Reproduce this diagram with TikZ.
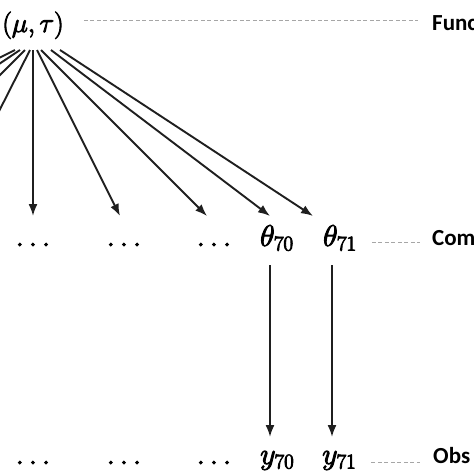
\RequirePackage{fix-cm}
\documentclass[tikz,border=0pt]{standalone}
\usepackage{fontspec}
\newfontfamily\labfont{Carlito}
\usetikzlibrary{arrows.meta}
\newcommand\heavytext[1]{\special{pdf:literal direct 2 Tr 0.9 w}#1\special{pdf:literal direct 0 Tr}}
\begin{document}
\begin{tikzpicture}[x=1pt,y=-1pt,
  conn/.style={line width=1.9pt, draw=black!88, -{Latex[length=12pt,width=9pt]}},
  plainconn/.style={line width=1.9pt, draw=black!88},
  guide/.style={draw=black!35, line width=0.7pt, dash pattern=on 4pt off 2.5pt},
  mnode/.style={inner sep=0pt, anchor=base west, font=\fontsize{30}{34}\selectfont},
  dnode/.style={inner sep=0pt, anchor=base, font=\fontsize{30}{34}\selectfont},
  lab/.style={inner sep=0pt, anchor=base west, font=\fontsize{23}{27}\selectfont\labfont\bfseries}]
\useasboundingbox (0,0) rectangle (474,474);
\clip (0,0) rectangle (474,474);

% top node
\node[inner sep=0pt, anchor=base, font=\fontsize{27}{31}\selectfont] (mu) at (33,32) {\heavytext{$(\mu{,}\,\tau)$}};

% middle row
\node[dnode] (d1) at (33,246) {\heavytext{$\ldots$}};
\node[dnode] (d2) at (124,246) {\heavytext{$\ldots$}};
\node[dnode] (d3) at (214,246) {\heavytext{$\ldots$}};
\node[mnode] (t70) at (260,246) {\heavytext{$\theta_{70}$}};
\node[mnode] (t71) at (323,246) {\heavytext{$\theta_{71}$}};

% bottom row
\node[dnode] (e1) at (33,464) {\heavytext{$\ldots$}};
\node[dnode] (e2) at (124,464) {\heavytext{$\ldots$}};
\node[dnode] (e3) at (214,464) {\heavytext{$\ldots$}};
\node[mnode] (y70) at (260,464) {\heavytext{$y_{70}$}};
\node[mnode] (y71) at (322,464) {\heavytext{$y_{71}$}};

% labels
\node[lab] (lab1) at (432,30) {Func};
\node[lab] (lab2) at (432,245) {Com};
\node[lab] (lab3) at (433,463) {Obs};

% off-picture targets on the left
\coordinate (l1) at (-315,216);
\coordinate (l2) at (-228,216);
\coordinate (l3) at (-141,216);
\coordinate (l4) at (-54,216);

% connectors from (mu,tau)
\draw[plainconn] ([shift={(-18,18)}]mu.base) -- (l1);
\draw[plainconn] ([shift={(-13,18)}]mu.base) -- (l2);
\draw[plainconn] ([shift={(-8,18)}]mu.base) -- (l3);
\draw[plainconn] ([shift={(-3,18)}]mu.base) -- (l4);
\draw[conn] ([shift={(0,18)}]mu.base) -- ([shift={(0,-30)}]d1.base);
\draw[conn] ([shift={(4,18)}]mu.base) -- ([shift={(-4,-30)}]d2.base);
\draw[conn] ([shift={(8,18)}]mu.base) -- ([shift={(-7,-30)}]d3.base);
\draw[conn] ([shift={(18,18)}]mu.base) -- ([shift={(10,-30)}]t70.base west);
\draw[conn] ([shift={(27,18)}]mu.base) -- ([shift={(-10,-30)}]t71.base west);

% theta -> y
\draw[conn] ([shift={(10,19)}]t70.base west) -- ([shift={(10,-27)}]y70.base west);
\draw[conn] ([shift={(9,19)}]t71.base west) -- ([shift={(10,-27)}]y71.base west);

% dashed guides
\draw[guide] ([shift={(20,-12)}]mu.base east) -- ([shift={(-14,-10)}]lab1.base west);
\draw[guide] ([shift={(15,-4)}]t71.base east) -- ([shift={(-12,-3)}]lab2.base west);
\draw[guide] ([shift={(15,-2)}]y71.base east) -- ([shift={(-13,-1)}]lab3.base west);
\end{tikzpicture}
\end{document}
